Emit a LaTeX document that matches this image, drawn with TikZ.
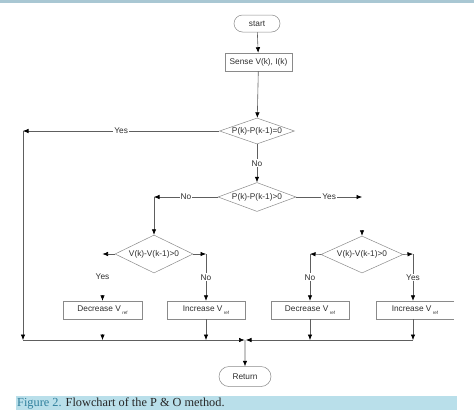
\documentclass[tikz,border=0pt]{standalone}
\usepackage{fontspec}
\setmainfont{Liberation Serif}
\newfontfamily\diagfont{Liberation Sans}
\usetikzlibrary{arrows.meta,shapes.geometric,shapes.misc}
\definecolor{linegray}{HTML}{5E5E5E}
\definecolor{boxgray}{HTML}{8A8A8A}
\definecolor{txtgray}{HTML}{2E2E2E}
\definecolor{topbar}{HTML}{A9C7D3}
\definecolor{capband}{HTML}{B9DFEA}
\definecolor{capteal}{HTML}{2F7F9C}
\newcommand{\vref}{V\hspace{1.5pt}\raisebox{-3pt}{\fontsize{4.5}{5}\selectfont ref}}
\begin{document}
\begin{tikzpicture}[x=1pt,y=-1pt,
  every node/.style={font=\diagfont\fontsize{8.3}{10}\selectfont, text=txtgray},
  term/.style={rounded rectangle, draw=boxgray, line width=0.5pt, minimum height=17pt, inner sep=0pt},
  procbox/.style={rectangle, draw=boxgray, line width=0.5pt, minimum height=18pt, inner sep=0pt},
  decision/.style={diamond, aspect=3, draw=boxgray, line width=0.5pt, inner sep=0pt},
  conn/.style={draw=linegray, line width=0.6pt},
  arr/.style={conn, -{Latex[length=5.5pt,width=4.5pt,color=black]}},
  lbl/.style={fill=white, inner sep=1pt}
]
\useasboundingbox (0,0) rectangle (474,410);
% bands
\fill[topbar] (0,0) rectangle (474,2.5);
\fill[capband] (16,396) rectangle (457,410);
\node[anchor=base west, inner sep=0pt, font=\rmfamily\fontsize{12.3}{14}\selectfont, text=black!85] (cap) at (17,406.5)
  {\textcolor{capteal}{Figure 2.} Flowchart of the P \& O method.};

% nodes
\node[term, minimum width=46pt] (start) at (257,23.5) {start};
\node[procbox, minimum width=67pt] (sense) at (258.5,62) {Sense V(k), I(k)};
\node[decision, minimum width=75pt, minimum height=26pt] (d1) at (257,131) {P(k)-P(k-1)=0};
\node[decision, minimum width=78pt, minimum height=29pt] (d2) at (257,197) {P(k)-P(k-1)>0};
\node[decision, minimum width=78pt, minimum height=38pt] (d3) at (154,254) {V(k)-V(k-1)>0};
\node[decision, minimum width=82pt, minimum height=37pt] (d4) at (362,254.5) {V(k)-V(k-1)>0};
\node[procbox, minimum width=79pt] (b1) at (102.5,310) {Decrease \vref};
\node[procbox, minimum width=78pt] (b2) at (206,310) {Increase \vref};
\node[procbox, minimum width=78pt] (b3) at (310,310) {Decrease \vref};
\node[rectangle, minimum width=78pt, minimum height=18pt, inner sep=0pt] (b4) at (415,310) {Increase \vref};
\draw[boxgray, line width=0.5pt] (b4.north east) -- (b4.north west) -- (b4.south west) -- (b4.south east);
\node[term, minimum width=52pt, minimum height=20pt] (ret) at (245,376.5) {Return};

% coordinates
\coordinate (yl) at (23,131);
\coordinate (nl) at (154,197);
\coordinate (yr) at (362,197);
\coordinate (d4in) at (362,230);
\coordinate (d3l) at (102.5,254);
\coordinate (b1in) at (102.5,295);
\coordinate (d3r) at (206,254);
\coordinate (d4l) at (310,254);
\coordinate (d4r) at (413,254);
\coordinate (bl) at (23,340);
\coordinate (j1) at (102.5,334);
\coordinate (j1e) at (102.5,340);
\coordinate (j2) at (206,340);
\coordinate (j3) at (310,340);
\coordinate (j4) at (413,340);
\coordinate (jl) at (244.5,340);
\coordinate (jr) at (246,340);
\coordinate (jm) at (245,340);

% connectors
\draw[arr] (start) -- (sense);
\draw[arr] (sense) -- (d1);
\draw[arr] (d1.west) -- node[lbl, pos=0.5] {Yes} (yl);
\draw[arr] (yl) -- (bl);
\draw[arr] (d1) -- node[lbl] {No} (d2);
\draw[arr] (d2.west) -- node[lbl, pos=0.5] {No} (nl);
\draw[arr] (nl) -- (d3);
\draw[arr] (d2.east) -- node[lbl, pos=0.5] {Yes} (yr);
\draw[arr] (d4in) -- (d4.north);
\draw[arr] (d3.west) -- (d3l);
\draw[arr] (d3.east) -- (d3r);
\node at (102.5,277) (yes3) {Yes};
\draw[arr] (b1in) -- (b1.north);
\draw[arr] (d3r) -- node[lbl, pos=0.5] {No} (b2.north);
\draw[arr] (d4.west) -- (d4l);
\draw[arr] (d4.east) -- (d4r);
\draw[arr] (d4l) -- node[lbl, pos=0.5] {No} (b3.north);
\draw[arr] (d4r) -- node[lbl, pos=0.5] {Yes} (b4.north -| d4r);
\draw[arr] (j1) -- (j1e);
\draw[arr] (b2) -- (j2);
\draw[arr] (b3) -- (j3);
\draw[arr] (b4.south -| j4) -- (j4);
\draw[arr] (bl) -- (jl);
\draw[arr] (j4) -- (jr);
\draw[arr] (jm) -- (ret);
\end{tikzpicture}
\end{document}
